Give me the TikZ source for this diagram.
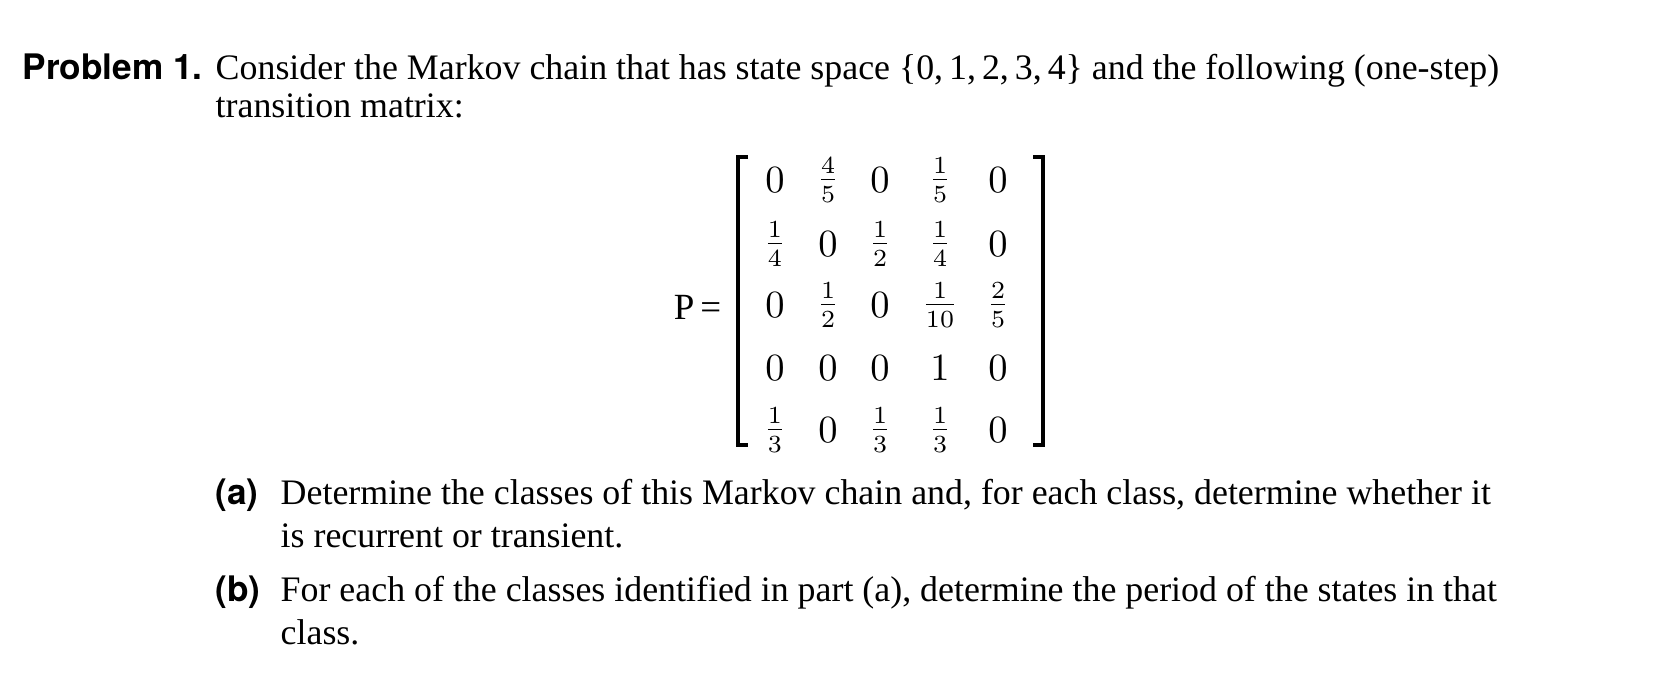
\documentclass[tikz,border=0pt]{standalone}
\usepackage{fontspec}
\setmainfont{Liberation Serif}
\setsansfont{TeX Gyre Heros}
\begin{document}
\begin{tikzpicture}[x=0.01cm,y=-0.01cm,
  txt/.style={anchor=base west,inner sep=0,font=\fontsize{10.2}{12}\selectfont},
  lab/.style={anchor=base west,inner sep=0,font=\fontsize{10}{12}\selectfont\sffamily\bfseries},
  ent/.style={inner sep=0,font=\fontsize{10.5}{12}\selectfont}]
\useasboundingbox (0,0) rectangle (1654,698);
\node[lab] (p1) at (22,80) {Problem 1.};
\node[txt] (l1) at (215,80) {Consider the Markov chain that has state space \{0,\,1,\,2,\,3,\,4\} and the following (one-step)};
\node[txt] (l2) at (215,118) {transition matrix:};
\node[ent,anchor=east] (P) at (722,307) {P\,=};
\foreach \r/\y/\a/\b/\c/\d/\e in {1/180/0/\frac45/0/\frac15/0, 2/244/\frac14/0/\frac12/\frac14/0, 3/305/0/\frac12/0/\frac1{10}/\frac25, 4/368/0/0/0/1/0, 5/430/\frac13/0/\frac13/\frac13/0}{
  \node[ent] (m\r1) at (775,\y) {$\a$};
  \node[ent] (m\r2) at (828,\y) {$\b$};
  \node[ent] (m\r3) at (880,\y) {$\c$};
  \node[ent] (m\r4) at (940,\y) {$\d$};
  \node[ent] (m\r5) at (998,\y) {$\e$};
}
\draw[line width=1.3pt] (748,157) -- (738,157) -- (738,445) -- (748,445);
\draw[line width=1.3pt] (1033,157) -- (1043,157) -- (1043,445) -- (1033,445);
\node[lab] (a) at (215,505) {(a)};
\node[txt] (a1) at (280,505) {Determine the classes of this Markov chain and, for each class, determine whether it};
\node[txt] (a2) at (280,548) {is recurrent or transient.};
\node[lab] (b) at (215,602) {(b)};
\node[txt] (b1) at (280,602) {For each of the classes identified in part (a), determine the period of the states in that};
\node[txt] (b2) at (280,645) {class.};
\end{tikzpicture}
\end{document}
